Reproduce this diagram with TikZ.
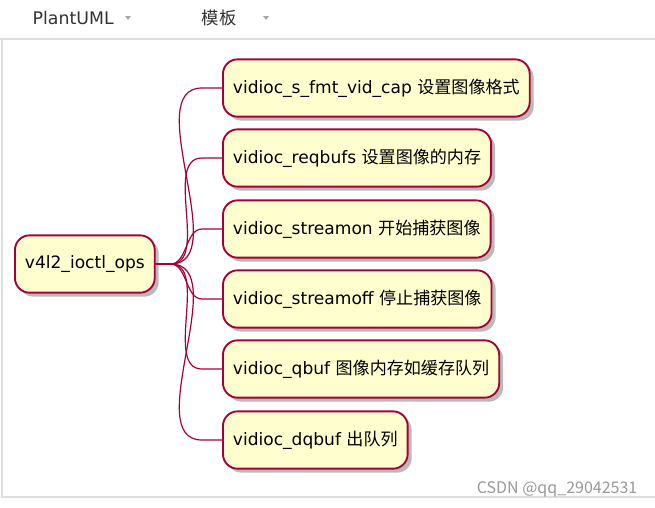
\documentclass[tikz,border=0pt]{standalone}
\usepackage{fontspec}
\setmainfont{DejaVu Sans}
\newfontfamily\cjk{Noto Sans CJK SC}
\usetikzlibrary{shadows,calc}
\definecolor{boxfill}{HTML}{FEFECE}
\definecolor{boxline}{HTML}{A80036}
\begin{document}
\begin{tikzpicture}[x=0.75pt,y=-0.75pt,
  mm/.style={draw=boxline,fill=boxfill,line width=1.4pt,rounded corners=11pt,
    minimum height=43pt,inner xsep=7.5pt,anchor=west,font=\fontsize{12.8}{15}\selectfont,
    drop shadow={shadow xshift=3pt,shadow yshift=-3pt,opacity=0.45,fill=black!60}},
  link/.style={draw=boxline,line width=0.9pt},
  tri/.style={fill=gray!70,draw=none}]
\useasboundingbox (0,0) rectangle (655,507);
\fill[white] (0,0) rectangle (655,507);
\draw[gray!25,line width=0.8pt] (0,39) -- (655,39);
\draw[gray!25,line width=0.8pt] (2,39) -- (2,497) -- (655,497);
\node[anchor=west,font=\fontsize{13}{15}\selectfont,text=black!80] (t1) at (28,18) {PlantUML};
\node[anchor=west,font=\cjk\fontsize{13}{15}\selectfont,text=black!80] (t2) at (197,18) {模板};
\fill[tri] (125,16) -- (131,16) -- (128,20) -- cycle;
\fill[tri] (263,16) -- (269,16) -- (266,20) -- cycle;
\node (r) [mm] at (14,264) {v4l2\_ioctl\_ops};
\node (c1) [mm] at (222,88) {vidioc\_s\_fmt\_vid\_cap {\cjk 设置图像格式}};
\node (c2) [mm] at (222,158) {vidioc\_reqbufs {\cjk 设置图像的内存}};
\node (c3) [mm] at (222,229) {vidioc\_streamon {\cjk 开始捕获图像}};
\node (c4) [mm] at (222,299) {vidioc\_streamoff {\cjk 停止捕获图像}};
\node (c5) [mm] at (222,369) {vidioc\_qbuf {\cjk 图像内存如缓存队列}};
\node (c6) [mm] at (222,440) {vidioc\_dqbuf {\cjk 出队列}};
\foreach \c in {c1,c2,c3,c4,c5,c6}{
  \draw[link] (r.east) -- ++(15,0) to[out=0,in=180,looseness=0.9] ($(\c.west)+(-20,0)$) -- (\c.west);
}
\node[anchor=east,font=\cjk\fontsize{12}{14}\selectfont,text=gray!80] (wm) at (642,489) {CSDN @qq\_29042531};
\end{tikzpicture}
\end{document}
